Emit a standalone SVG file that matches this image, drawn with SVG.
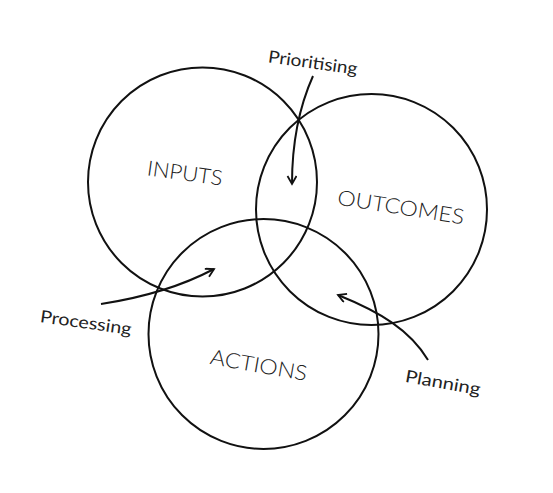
<svg xmlns="http://www.w3.org/2000/svg" width="553" height="493" viewBox="0 0 553 493">
<style>
.c{fill:none;stroke:#111;stroke-width:2}
.a{fill:none;stroke:#111;stroke-width:2}
.big{font-family:Lato,"Liberation Sans",sans-serif;font-size:21px;font-weight:300;fill:#222}
.sm{font-family:Lato,"Liberation Sans",sans-serif;font-size:17px;font-weight:400;fill:#222}
</style>
<defs>
<marker id="ah" markerWidth="12" markerHeight="12" refX="9" refY="5" orient="auto" markerUnits="userSpaceOnUse">
<path d="M1,0.5 L9,5 L1,9.5" fill="none" stroke="#111" stroke-width="1.8"/>
</marker>
</defs>
<rect width="553" height="493" fill="#fff"/>
<g id="inputs">
<circle class="c" cx="202.5" cy="182" r="114.5"/>
<text class="big" x="185" y="172" text-anchor="middle" dominant-baseline="central" transform="rotate(8 185 172)" textLength="76" lengthAdjust="spacingAndGlyphs">INPUTS</text>
</g>
<g id="outcomes">
<circle class="c" cx="371.5" cy="209.5" r="115.5"/>
<text class="big" x="401" y="206" text-anchor="middle" dominant-baseline="central" transform="rotate(9 401 206)" textLength="128" lengthAdjust="spacingAndGlyphs">OUTCOMES</text>
</g>
<g id="actions">
<circle class="c" cx="263.5" cy="334" r="115"/>
<text class="big" x="259" y="364" text-anchor="middle" dominant-baseline="central" transform="rotate(10 259 364)" textLength="98" lengthAdjust="spacingAndGlyphs">ACTIONS</text>
</g>
<g id="labels">
<text class="sm" x="313" y="62" text-anchor="middle" dominant-baseline="central" transform="rotate(8 313 62)" textLength="90" lengthAdjust="spacingAndGlyphs">Prioritising</text>
<text class="sm" x="86" y="322" text-anchor="middle" dominant-baseline="central" transform="rotate(8 86 322)" textLength="92" lengthAdjust="spacingAndGlyphs">Processing</text>
<text class="sm" x="443" y="382" text-anchor="middle" dominant-baseline="central" transform="rotate(10 443 382)" textLength="76" lengthAdjust="spacingAndGlyphs">Planning</text>
</g>
<g id="connectors">
<path class="a" d="M313,76 C300,105 292,140 292,184" marker-end="url(#ah)"/>
<path class="a" d="M101,304 C140,298 180,287 214,269" marker-end="url(#ah)"/>
<path class="a" d="M428,360 C410,330 380,312 338,295" marker-end="url(#ah)"/>
</g>
</svg>
